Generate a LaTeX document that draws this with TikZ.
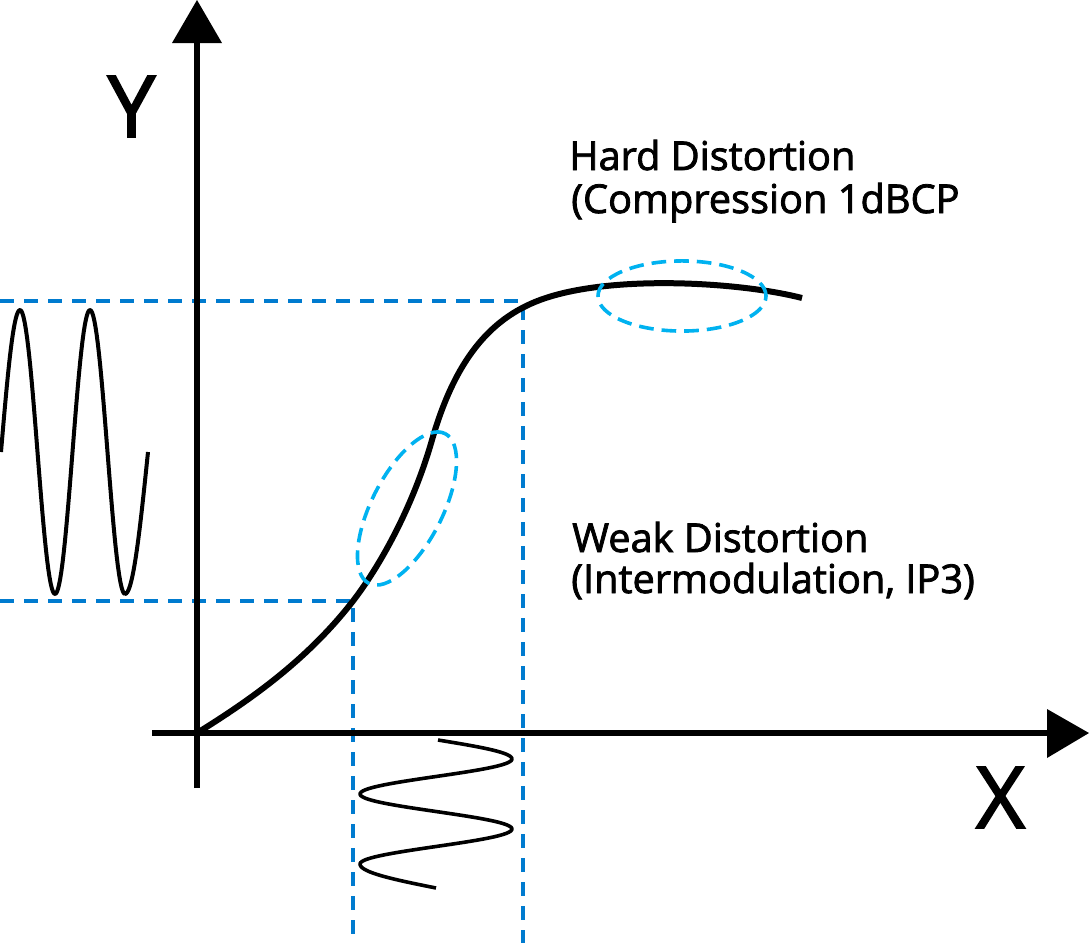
\documentclass[tikz,border=0pt]{standalone}
\usepackage{fontspec}
\setmainfont{Open Sans}
\newfontfamily\labelfont{Open Sans}[FakeBold=2]
\definecolor{guideblue}{RGB}{0,123,207}
\definecolor{zoneblue}{RGB}{0,178,240}
\begin{document}
\begin{tikzpicture}[x=0.75pt,y=-0.75pt,
  axis/.style={line width=4pt},
  guide/.style={draw=guideblue,line width=3pt,dash pattern=on 10.5pt off 7.5pt},
  zone/.style={draw=zoneblue,line width=2.7pt,dash pattern=on 11pt off 6pt},
  wave/.style={line width=3pt,line join=round},
  lbl/.style={font=\labelfont\fontsize{29.8}{33}\selectfont,inner sep=0pt,anchor=base west},
  axlbl/.style={font=\labelfont\fontsize{64}{70}\selectfont,inner sep=0pt,anchor=base}]
\useasboundingbox (0,0) rectangle (1090,943);

% guide lines
\coordinate (gh1) at (0,300.7);
\coordinate (gc1) at (522.7,300.7);
\coordinate (ge1) at (522.7,943);
\coordinate (gh2) at (0,600.7);
\coordinate (gc2) at (352.7,600.7);
\coordinate (ge2) at (352.7,934);
\draw[guide] (gh1) -- (gc1) -- (ge1);
\draw[guide] (gh2) -- (gc2) -- (ge2);

% axes
\coordinate (ybot) at (197,788);
\coordinate (ytop) at (197,43);
\coordinate (ytip) at (197,0);
\coordinate (yl) at (172,43);
\coordinate (yr) at (222,43);
\coordinate (xleft) at (152,733);
\coordinate (xright) at (1047,733);
\coordinate (xtip) at (1089,733);
\coordinate (xu) at (1047,709);
\coordinate (xd) at (1047,758);
\draw[axis] (ybot) -- (ytop);
\fill (yl) -- (ytip) -- (yr) -- cycle;
\draw[axis] (xleft) -- (xright);
\fill (xu) -- (xtip) -- (xd) -- cycle;

% transfer curve
\coordinate (c0) at (197,733);
\coordinate (c1) at (353,601);
\coordinate (c2) at (432,440);
\coordinate (c3) at (540,300);
\coordinate (c4) at (802,298);
\draw[line width=4.5pt,line cap=butt]
  (c0) .. controls (252,699) and (308,659) .. (c1)
       .. controls (378,568.5) and (412,510) .. (c2)
       .. controls (455,360) and (490,318.6) .. (c3)
       .. controls (610,274) and (740,282) .. (c4);

% distortion zones
\draw[zone,rotate around={63:(407,508.5)}] (407,508.5) ellipse [x radius=63pt,y radius=26.6pt];
\draw[zone] (682,296) ellipse [x radius=63pt,y radius=26.3pt];

% output wave (left)
\draw[wave] plot[domain=0:90,samples=20] ({1+0.21111*\x},{452-142*sin(\x)})
 -- plot[domain=90:630,samples=90] ({20+0.194444*(\x-90)},{452-142*sin(\x)})
 -- plot[domain=630:720,samples=20] ({125+0.25556*(\x-630)},{452-142*sin(\x)});

% input wave (bottom)
\draw[wave,line width=2.7pt] plot[domain=0:90,samples=20] ({438+74*sin(\x)},{740+0.21111*\x})
 -- plot[domain=90:630,samples=90] ({436+76*sin(\x)},{759+0.194444*(\x-90)})
 -- plot[domain=630:720,samples=20] ({436+76*sin(\x)},{864+0.26667*(\x-630)});

% labels
\node[axlbl] (ylab) at (131.5,137) {Y};
\node[axlbl] (xlab) at (1000.5,828) {X};
\node[lbl] (hard1) at (569,170) {Hard Distortion};
\node[lbl] (hard2) at (571,213) {(Compression 1dBCP};
\node[lbl] (weak1) at (572,552) {Weak Distortion};
\node[lbl] (weak2) at (571,593) {(Intermodulation, IP3)};
\end{tikzpicture}
\end{document}
